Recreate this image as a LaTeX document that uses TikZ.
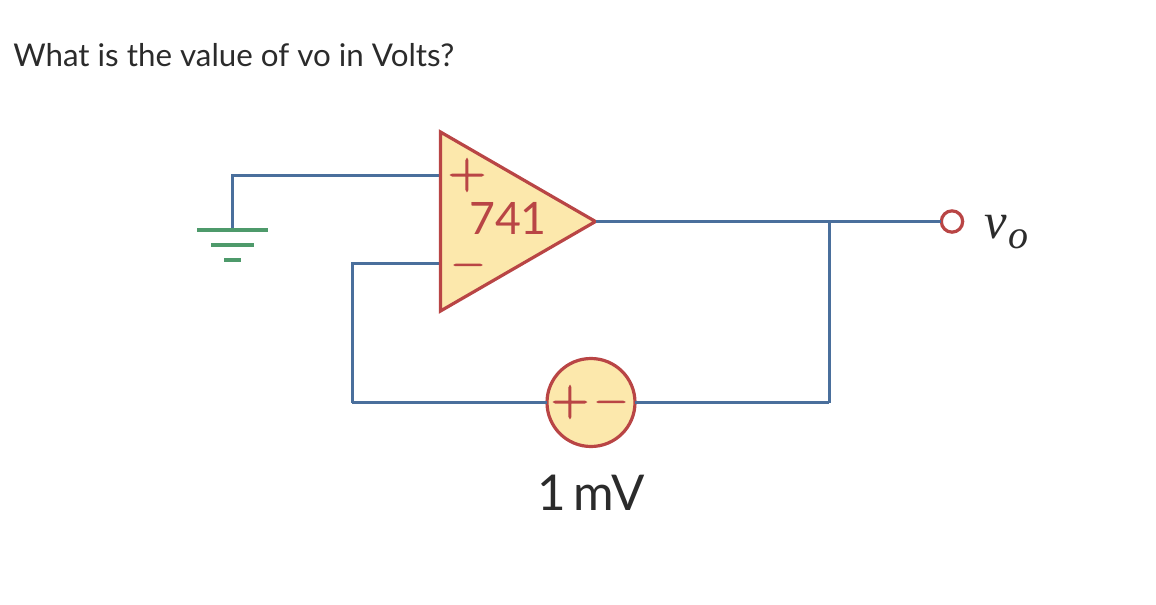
\documentclass[tikz,border=0pt]{standalone}
\usepackage{fontspec}
\setmainfont{Lato}
\newfontfamily\vofont{Liberation Serif}
\newfontfamily\signfont[FakeBold=2.2]{Latin Modern Roman}
\newcommand{\signbox}[1]{\smash{\raisebox{-.25em}{#1}}}
\usetikzlibrary{shapes.geometric,positioning}
\definecolor{WireBlue}{HTML}{4A6F9C}
\definecolor{GndGreen}{HTML}{4E9A6B}
\definecolor{AmpRed}{HTML}{B94545}
\definecolor{AmpFill}{HTML}{FCE8AC}
\definecolor{TextInk}{HTML}{2B2B2B}

\begin{document}
\begin{tikzpicture}[x=0.75pt,y=-0.75pt]
                     \tikzstyle{wire} = [draw=WireBlue,line width=2.25pt,line join=miter]
                     \tikzstyle{gnd} = [draw=GndGreen,line width=2.4pt]
                     \tikzstyle{amp} = [draw=AmpRed,fill=AmpFill,line width=2.4pt,shape=isosceles triangle,isosceles triangle stretches,shape border rotate=0,minimum width=134.25pt,minimum height=116.25pt,inner sep=0pt,outer sep=0pt,anchor=apex]
                     \tikzstyle{src} = [circle,draw=AmpRed,fill=AmpFill,line width=2.4pt,minimum size=66pt,inner sep=0pt,outer sep=0pt]
                     \tikzstyle{term} = [circle,draw=AmpRed,fill=white,line width=2.4pt,minimum size=16pt,inner sep=0pt,outer sep=0pt]
                     \tikzstyle{plus} = [text=AmpRed,inner sep=0pt,font=\signfont\fontsize{39}{39}\selectfont]
                     \tikzstyle{minus} = [text=AmpRed,inner sep=0pt,font=\signfont\fontsize{33}{33}\selectfont]
                     \tikzstyle{lbl} = [text=TextInk,inner sep=0pt]
                     \useasboundingbox (0,0) rectangle (1156,604);

                     \node[lbl,anchor=west,font=\fontsize{23.5}{28}\selectfont] (Q) at (13,55) {What is the value of vo in Volts?};

                     % pins and corners
                     \coordinate (INP) at (441,175);
                     \coordinate (INN) at (441,263);
                     \coordinate (GT) at (232,175);
                     \coordinate (G1) at (232,230);
                     \coordinate (FB1) at (352,263);
                     \coordinate (FB2) at (352,402.5);
                     \coordinate (J1) at (829,221.5);
                     \coordinate (J2) at (829,402.5);

                     \draw[wire] (INP) -- (GT) -- (G1);
                     \draw[wire] (INN) -- (FB1) -- (FB2);
                     \draw[wire] (J2) -- (J1);

                     \node[amp] (A) at (595.5,221.5) {};
                     \node[src] (V) at (591,402.5) {};
                     \node[term] (O) at (952,221.5) {};
                     \draw[wire] (A.apex) -- (O);
                     \draw[wire] (FB2) -- (V);
                     \draw[wire] (V) -- (J2);

                     % ground bars
                     \coordinate (G1L) at (197,230);
                     \coordinate (G1R) at (268,230);
                     \coordinate (G2L) at (211,245);
                     \coordinate (G2R) at (254,245);
                     \coordinate (G3L) at (224,260);
                     \coordinate (G3R) at (241,260);
                     \draw[gnd] (G1L) -- (G1R);
                     \draw[gnd] (G2L) -- (G2R);
                     \draw[gnd] (G3L) -- (G3R);

                     \node[plus] (AP) at (467,175) {\signbox{+}};
                     \node[minus] (AM) at (468,265) {\signbox{−}};
                     \node[plus] (VP) at (570,402) {\signbox{+}};
                     \node[minus] (VM) at (611,402) {\signbox{−}};
                     \node[text=AmpRed,inner sep=0pt,font=\fontsize{33.5}{34}\selectfont] (T) at (508,218) {741};
                     \node[lbl,font=\fontsize{37}{37}\selectfont] (L) at (591,493) {1\hspace{6pt}mV};
                     \node[lbl,anchor=base west,font=\vofont\itshape\fontsize{38}{38}\selectfont] (VO) at (984,238) {v\hspace{1pt}\raisebox{-8pt}{\fontsize{30}{30}\selectfont o}};
\end{tikzpicture}
\end{document}
